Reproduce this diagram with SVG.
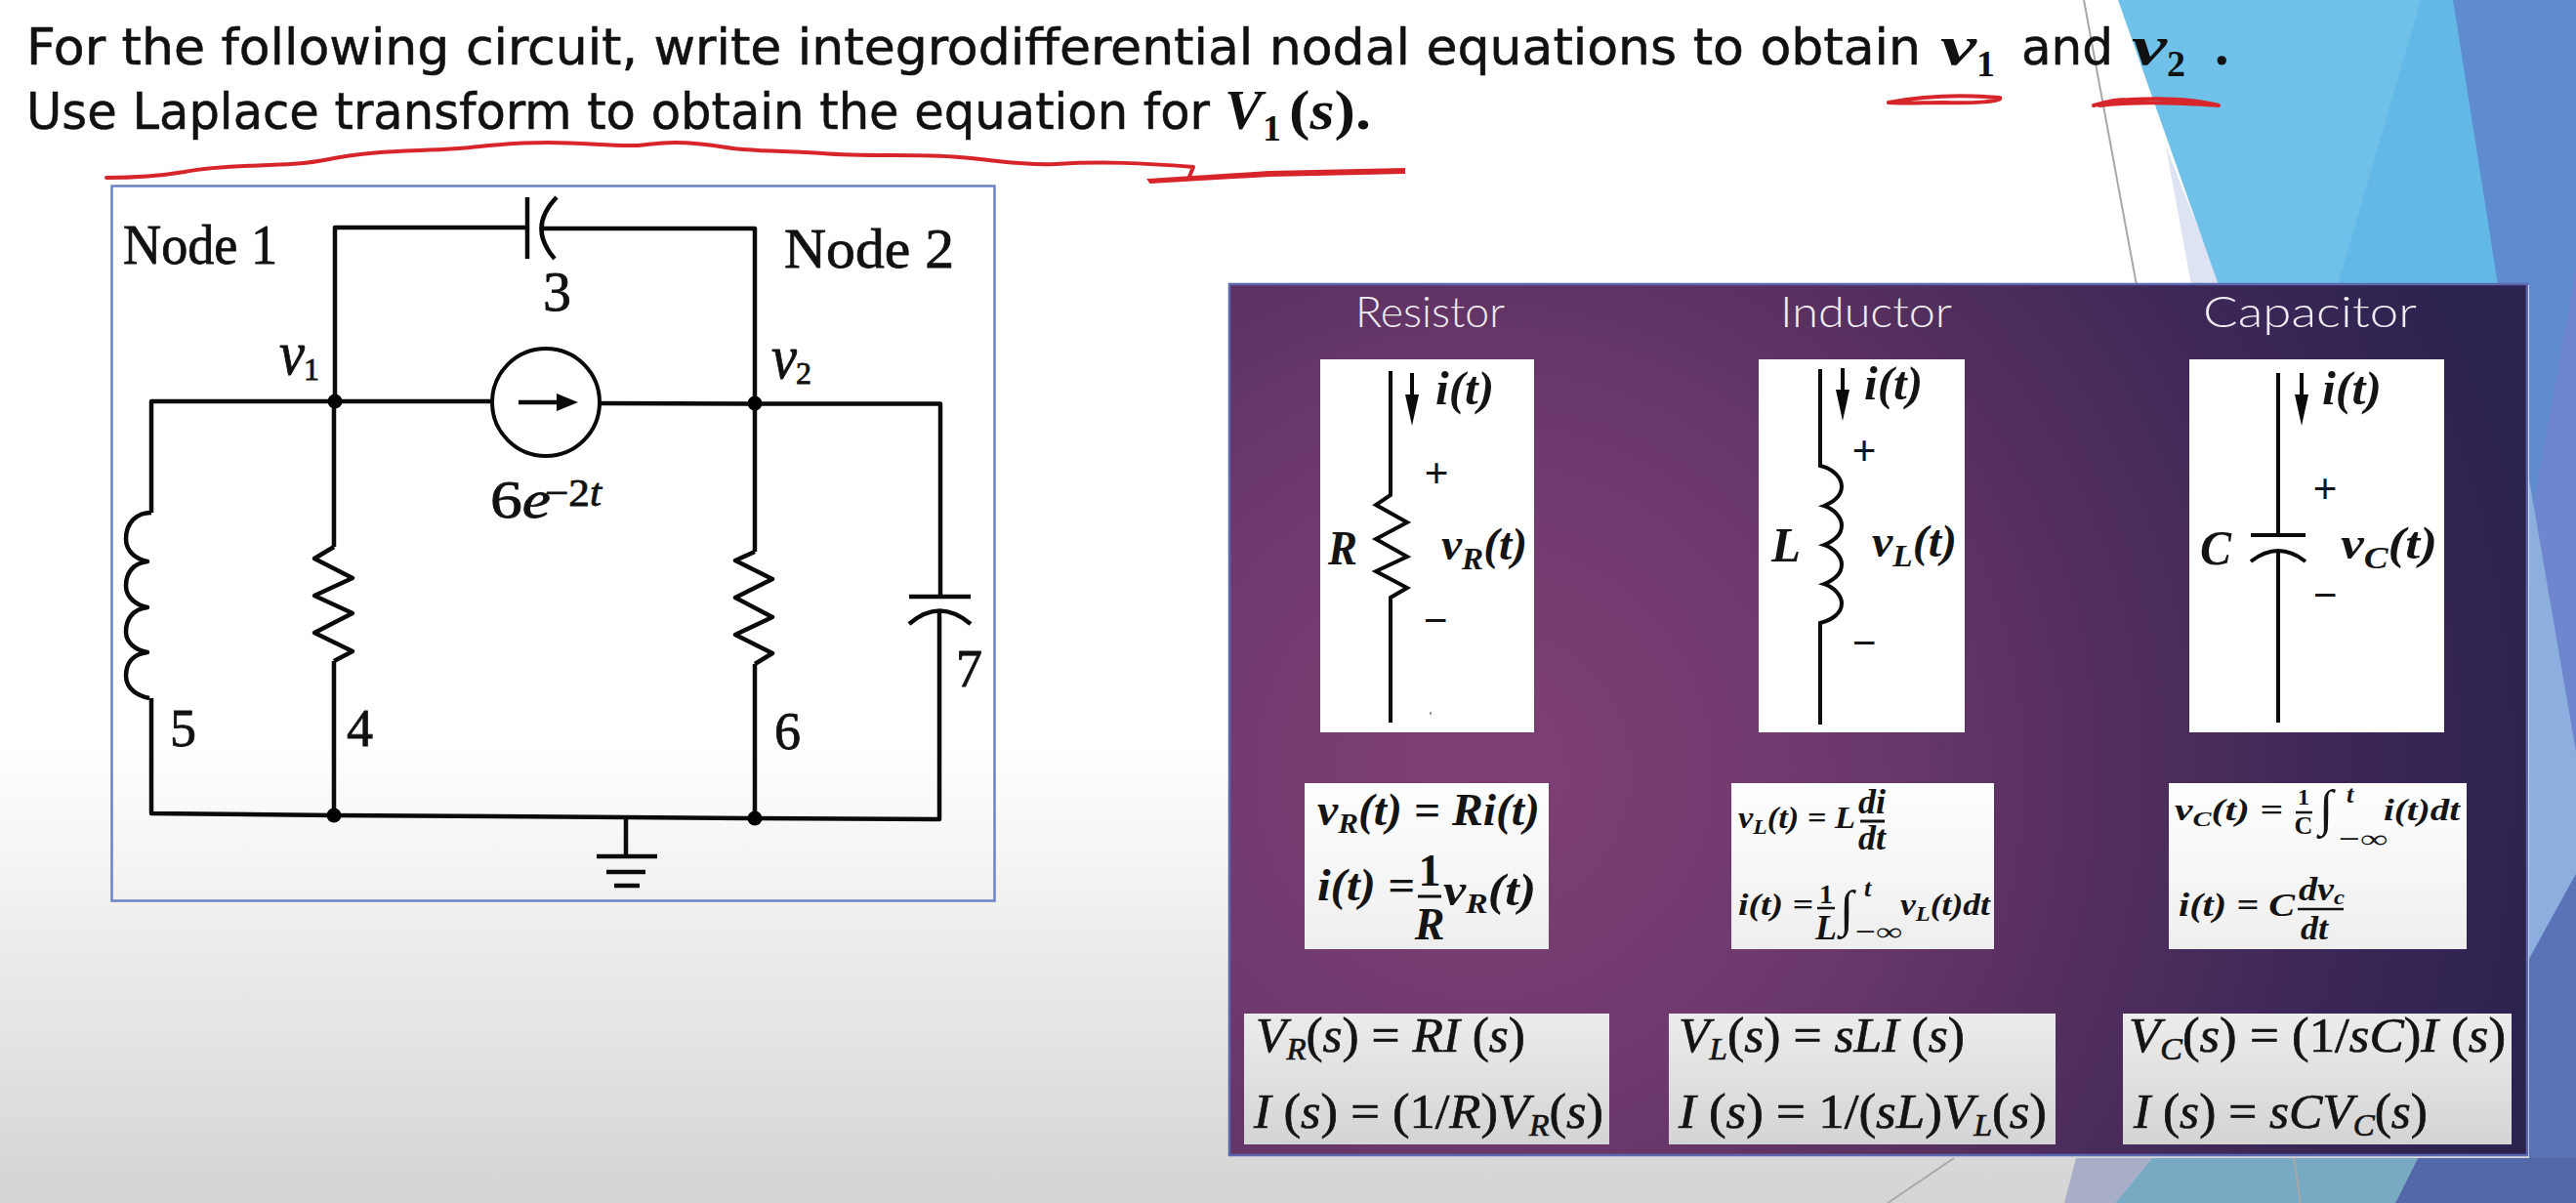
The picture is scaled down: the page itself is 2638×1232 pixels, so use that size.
<svg xmlns="http://www.w3.org/2000/svg" width="2638" height="1232" viewBox="0 0 2638 1232">
<style>
.hd{font-family:"DejaVu Sans Condensed","DejaVu Sans",sans-serif;font-stretch:condensed;font-size:52px;fill:#111;stroke:#111;stroke-width:.5}
.mb{font-family:"Liberation Serif",serif;font-style:italic;font-weight:700;font-size:58px;fill:#111}
.s{font-family:"Liberation Serif",serif;font-size:56px;fill:#111;stroke:#111;stroke-width:.8}
.si{font-family:"Liberation Serif",serif;font-style:italic;font-size:56px;fill:#111;stroke:#111;stroke-width:.8}
.t{font-family:"Lato","Liberation Sans",sans-serif;font-weight:300;font-size:44px;fill:#f0ecf2}
.e{font-family:"Liberation Serif",serif;font-style:italic;font-weight:700;fill:#141414}
.q{font-family:"Liberation Serif",serif;font-style:italic;font-size:50px;fill:#141414;stroke:#141414;stroke-width:.7}
.l{font-family:"Liberation Serif",serif;font-weight:400;fill:#141414}
.u{font-style:normal}
.w{fill:none;stroke:#0a0a0a;stroke-width:4.500;stroke-linejoin:round}
.wt{fill:none;stroke:#0a0a0a;stroke-width:4}
.r{fill:none;stroke:#d6252b;stroke-width:4;stroke-linecap:round;stroke-linejoin:round}
.box{fill:#fff}
</style>
<defs>
<linearGradient id="bg" x1="0" y1="0" x2="0" y2="1232" gradientUnits="userSpaceOnUse"><stop offset="0.62" stop-color="#fff"/><stop offset="1" stop-color="#d4d4d4"/></linearGradient>
<radialGradient id="pg" gradientUnits="userSpaceOnUse" cx="1520" cy="790" r="1090"><stop offset="0" stop-color="#7e4074"/><stop offset="0.3" stop-color="#703a6e"/><stop offset="0.55" stop-color="#57305f"/><stop offset="0.78" stop-color="#3e2858"/><stop offset="1" stop-color="#2d2350"/></radialGradient>
<linearGradient id="mid" x1="0" y1="0" x2="0" y2="1"><stop offset="0" stop-color="#fff"/><stop offset="1" stop-color="#eeeeee"/></linearGradient>
<linearGradient id="low" x1="0" y1="0" x2="0" y2="1"><stop offset="0" stop-color="#ececec"/><stop offset="1" stop-color="#d4d4d4"/></linearGradient>
</defs>

<g id="background">
<rect width="2638" height="1232" fill="url(#bg)"/>
<polygon points="2218,150 2244,292 2274,292" fill="#dde3f3"/>
<polygon points="2169,0 2638,0 2638,292 2272,292" fill="#70c1ea"/>
<polygon points="2479,0 2512,0 2558,292 2394,292" fill="#62b8e6"/>
<polygon points="2512,0 2638,0 2638,1000 2590,1000 2590,292 2558,292" fill="#5f8bcf"/>
<polygon points="2638,275 2638,790 2590,491 2590,540" fill="#6d86ce"/>
<polygon points="2590,491 2638,770 2638,895 2590,982" fill="#8cafdf"/>
<polygon points="2590,982 2638,895 2638,1232 2590,1232" fill="#5a72b8"/>
<polygon points="2126,1186 2204,1186 2166,1232 2114,1232" fill="#a9aec8"/>
<polygon points="2204,1186 2476,1186 2453,1232 2166,1232" fill="#79aac4"/>
<polygon points="2476,1186 2638,1186 2638,1232 2453,1232" fill="#5368a8"/>
<path d="M2134 0L2188 292M2001 1186L1933 1232M2349 1186L2356 1232" fill="none" stroke="#a8a8a8" stroke-width="2"/>
</g>

<g id="question">
<text class="hd" x="27" y="66" textLength="1940" lengthAdjust="spacingAndGlyphs">For the following circuit, write integrodifferential nodal equations to obtain</text>
<text class="mb" x="1987" y="66" textLength="37" lengthAdjust="spacingAndGlyphs">v</text><text class="mb u" x="2024" y="78" style="font-size:38px">1</text>
<text class="hd" x="2070" y="66" textLength="94" lengthAdjust="spacingAndGlyphs">and</text>
<text class="mb" x="2183" y="66" textLength="36" lengthAdjust="spacingAndGlyphs">v</text><text class="mb u" x="2219" y="78" style="font-size:38px">2</text>
<text class="mb u" x="2268" y="66">.</text>
<text class="hd" x="27" y="132" textLength="1212" lengthAdjust="spacingAndGlyphs">Use Laplace transform to obtain the equation for</text>
<text class="mb" x="1254" y="132">V</text><text class="mb u" x="1293" y="144" style="font-size:38px">1</text>
<text class="mb" x="1320" y="132" textLength="84" lengthAdjust="spacingAndGlyphs"><tspan class="u">(</tspan>s<tspan class="u">).</tspan></text>
</g>

<g id="annotations">
<path class="r" d="M109 182C140 182 165 180 189 176C240 166 290 173 337 163C390 152 440 156 491 150C520 147 540 146 561 146C600 146 625 150 653 149C670 147 680 146 691 146C710 146 725 148 744 151C775 156 810 154 842 157C890 161 940 157 982 161C1020 164 1050 170 1081 168C1130 165 1170 167 1222 171L1218 181"/>
<path d="M1176 184L1300 176L1438 173L1438 177L1300 180L1178 187Z" fill="#d6252b" stroke="#d6252b" stroke-width="2"/>
<path class="r" d="M1934 105C1960 100 2000 96 2048 100C2052 104 2020 106 1990 105C1970 105 1950 106 1934 105"/>
<path class="r" d="M2144 108C2160 104 2165 102 2180 102C2215 100 2250 102 2272 108C2245 106 2190 103 2150 108"/>
</g>

<g id="circuit">
<rect x="114.500" y="190.500" width="904" height="732" fill="none" stroke="#6a83c4" stroke-width="2.500"/>
<g id="connectors">
<path class="w" d="M343 411V233H540M554 234H773V413"/>
<path class="w" d="M155 525V411H504M614 413L773 413.500H963V611"/>
<path class="w" d="M155 715V833L342 835L641 837L773 838L962 839V627"/>
<path class="w" d="M342 411V560M342 677V835M773 413V565M773 680V838"/>
<path class="w" d="M641 837V877"/>
</g>
<g id="inductor-5"><path class="w" d="M155 525C140 525 129 535 129 552C129 565 140 573 151 575C135 577 129 588 129 600C129 612 140 620 151 622C135 624 129 635 129 647C129 659 140 666 151 668C135 670 129 680 129 692C129 706 142 713 153 715"/><text class="s" x="174" y="764" style="font-size:54px">5</text></g>
<g id="resistor-4"><path class="w" d="M342 560L322 572L361 592L322 610L361 628L322 648L361 667L342 677"/><text class="s" x="355" y="764" style="font-size:54px">4</text></g>
<g id="resistor-6"><path class="w" d="M773 565L753 574L791 593L753 612L791 632L753 650L791 669L773 680"/><text class="s" x="793" y="767" style="font-size:54px">6</text></g>
<g id="capacitor-7"><path class="w" d="M931 611H994M931 639Q962 612 994 639"/><text class="s" x="979" y="703" style="font-size:54px">7</text></g>
<g id="capacitor-3"><path class="w" d="M540 202V265M570 202Q540 233 568 265"/><text class="s" x="556" y="318" style="font-size:58px">3</text></g>
<g id="source"><circle cx="559" cy="412" r="55" fill="none" stroke="#0a0a0a" stroke-width="4"/><path class="w" d="M531 412H575"/><polygon points="592,412 570,403 570,421" fill="#0a0a0a"/><text class="si" x="502" y="530" style="font-size:54px" textLength="62" lengthAdjust="spacingAndGlyphs"><tspan class="u">6</tspan>e</text><text class="si" x="558" y="518" style="font-size:40px" textLength="58" lengthAdjust="spacingAndGlyphs"><tspan class="u">−2</tspan>t</text></g>
<g id="ground"><path class="w" d="M611 877H673"/><path class="w" stroke-width="5" d="M621 893H661M629 907H655"/></g>
<g id="junctions"><circle cx="343" cy="411" r="7.500"/><circle cx="773" cy="413" r="7.500"/><circle cx="342" cy="835" r="7.500"/><circle cx="773" cy="838" r="7.500"/></g>
<g id="node-1"><text class="s" x="126" y="270" textLength="158" lengthAdjust="spacingAndGlyphs" style="font-size:56px">Node 1</text><text class="si" x="286" y="383" style="font-size:64px" textLength="26" lengthAdjust="spacingAndGlyphs">v</text><text class="s" x="311" y="389" style="font-size:32px">1</text></g>
<g id="node-2"><text class="s" x="803" y="274" textLength="174" lengthAdjust="spacingAndGlyphs" style="font-size:56px">Node 2</text><text class="si" x="790" y="387" style="font-size:64px" textLength="26" lengthAdjust="spacingAndGlyphs">v</text><text class="s" x="815" y="393" style="font-size:32px">2</text></g>
</g>

<g id="panel">
<rect x="1259" y="291" width="1329" height="892" fill="url(#pg)" stroke="#5b68b0" stroke-width="2.500"/>
<text class="t" x="1388" y="335" textLength="153" lengthAdjust="spacingAndGlyphs">Resistor</text>
<text class="t" x="1823" y="335" textLength="176" lengthAdjust="spacingAndGlyphs">Inductor</text>
<text class="t" x="2256" y="335" textLength="219" lengthAdjust="spacingAndGlyphs">Capacitor</text>

<g id="resistor-symbol">
<rect class="box" x="1352" y="368" width="219" height="382"/>
<path class="wt" d="M1424 380V507L1409 517L1441 535L1409 552L1441 570L1409 585L1441 602L1424 612V740"/>
<path class="wt" stroke-width="3" d="M1446 382V412"/><polygon points="1446,436 1439,404 1453,404" fill="#0a0a0a"/>
<text class="e" x="1470" y="414" style="font-size:48px" textLength="60" lengthAdjust="spacingAndGlyphs">i(t)</text>
<text class="l" x="1471" y="499" text-anchor="middle" style="font-size:44px;font-weight:700">+</text>
<text class="l" x="1470" y="650" text-anchor="middle" style="font-size:44px;font-weight:700">−</text>
<text class="e" x="1360" y="578" style="font-size:50px" textLength="30" lengthAdjust="spacingAndGlyphs">R</text>
<text class="e" x="1476" y="573" style="font-size:46px" textLength="88" lengthAdjust="spacingAndGlyphs">v<tspan dy="10" style="font-size:32px">R</tspan><tspan dy="-10">(t)</tspan></text>
<rect x="1464" y="729" width="2" height="3" fill="#999"/>
</g>
<g id="inductor-symbol">
<rect class="box" x="1801" y="368" width="211" height="382"/>
<path class="wt" d="M1864 378V477C1878 480 1886 490 1886 498C1886 508 1878 514 1868 518C1878 521 1886 530 1886 538C1886 548 1878 554 1868 558C1878 561 1886 570 1886 578C1886 588 1878 594 1868 598C1878 601 1886 610 1886 618C1886 628 1876 635 1864 638V742"/>
<path class="wt" stroke-width="3" d="M1887 377V407"/><polygon points="1887,431 1880,399 1894,399" fill="#0a0a0a"/>
<text class="e" x="1909" y="409" style="font-size:48px" textLength="60" lengthAdjust="spacingAndGlyphs">i(t)</text>
<text class="l" x="1909" y="476" text-anchor="middle" style="font-size:44px;font-weight:700">+</text>
<text class="l" x="1909" y="673" text-anchor="middle" style="font-size:44px;font-weight:700">−</text>
<text class="e" x="1814" y="575" style="font-size:50px" textLength="30" lengthAdjust="spacingAndGlyphs">L</text>
<text class="e" x="1917" y="570" style="font-size:46px" textLength="87" lengthAdjust="spacingAndGlyphs">v<tspan dy="10" style="font-size:32px">L</tspan><tspan dy="-10">(t)</tspan></text>
</g>
<g id="capacitor-symbol">
<rect class="box" x="2242" y="368" width="261" height="382"/>
<path class="wt" d="M2333 382V548M2305 548H2361M2305 575Q2333 553 2361 575M2333 565V740"/>
<path class="wt" stroke-width="3" d="M2357 382V412"/><polygon points="2357,436 2350,404 2364,404" fill="#0a0a0a"/>
<text class="e" x="2378" y="414" style="font-size:48px" textLength="61" lengthAdjust="spacingAndGlyphs">i(t)</text>
<text class="l" x="2381" y="515" text-anchor="middle" style="font-size:44px;font-weight:700">+</text>
<text class="l" x="2381" y="624" text-anchor="middle" style="font-size:44px;font-weight:700">−</text>
<text class="e" x="2253" y="578" style="font-size:50px" textLength="32" lengthAdjust="spacingAndGlyphs">C</text>
<text class="e" x="2397" y="572" style="font-size:46px" textLength="99" lengthAdjust="spacingAndGlyphs">v<tspan dy="10" style="font-size:32px">C</tspan><tspan dy="-10">(t)</tspan></text>
</g>

<g id="resistor-time">
<rect x="1336" y="802" width="250" height="170" fill="url(#mid)"/>
<text class="e" x="1349" y="845" style="font-size:46px" textLength="228" lengthAdjust="spacingAndGlyphs">v<tspan dy="8" style="font-size:30px">R</tspan><tspan dy="-8">(t) = Ri(t)</tspan></text>
<text class="e" x="1349" y="922" style="font-size:46px" textLength="100" lengthAdjust="spacingAndGlyphs">i(t) =</text>
<text class="e u" x="1464" y="907" text-anchor="middle" style="font-size:46px">1</text>
<path d="M1452 918H1476" stroke="#111" stroke-width="3"/>
<text class="e" x="1464" y="962" text-anchor="middle" style="font-size:46px">R</text>
<text class="e" x="1478" y="927" style="font-size:46px" textLength="95" lengthAdjust="spacingAndGlyphs">v<tspan dy="8" style="font-size:30px">R</tspan><tspan dy="-8">(t)</tspan></text>
</g>
<g id="inductor-time">
<rect x="1773" y="802" width="269" height="170" fill="url(#mid)"/>
<text class="e" x="1780" y="848" style="font-size:32px" textLength="120" lengthAdjust="spacingAndGlyphs">v<tspan dy="6" style="font-size:22px">L</tspan><tspan dy="-6">(t) = L</tspan></text>
<text class="e" x="1917" y="833" text-anchor="middle" style="font-size:36px">di</text>
<path d="M1905 841H1930" stroke="#111" stroke-width="3"/>
<text class="e" x="1917" y="870" text-anchor="middle" style="font-size:36px">dt</text>
<text class="e" x="1780" y="937" style="font-size:32px" textLength="77" lengthAdjust="spacingAndGlyphs">i(t) =</text>
<text class="e u" x="1870" y="925" text-anchor="middle" style="font-size:28px">1</text>
<path d="M1861 930H1879" stroke="#111" stroke-width="2.500"/>
<text class="e" x="1870" y="962" text-anchor="middle" style="font-size:36px">L</text>
<text class="l" x="1884" y="948" style="font-size:52px;font-style:italic">∫</text>
<text class="e" x="1909" y="918" style="font-size:26px">t</text>
<text class="e u" x="1900" y="963" style="font-size:26px" textLength="48" lengthAdjust="spacingAndGlyphs">−∞</text>
<text class="e" x="1946" y="937" style="font-size:32px" textLength="92" lengthAdjust="spacingAndGlyphs">v<tspan dy="6" style="font-size:22px">L</tspan><tspan dy="-6">(t)dt</tspan></text>
</g>
<g id="capacitor-time">
<rect x="2221" y="802" width="305" height="170" fill="url(#mid)"/>
<text class="e" x="2227" y="840" style="font-size:32px" textLength="111" lengthAdjust="spacingAndGlyphs">v<tspan dy="6" style="font-size:22px">C</tspan><tspan dy="-6">(t) =</tspan></text>
<text class="e u" x="2359" y="824" text-anchor="middle" style="font-size:24px">1</text>
<path d="M2351 832H2368" stroke="#111" stroke-width="2.500"/>
<text class="l" x="2359" y="854" text-anchor="middle" style="font-size:26px;font-weight:700">C</text>
<text class="l" x="2375" y="845" style="font-size:52px;font-style:italic">∫</text>
<text class="e" x="2403" y="822" style="font-size:26px">t</text>
<text class="e u" x="2395" y="868" style="font-size:26px" textLength="50" lengthAdjust="spacingAndGlyphs">−∞</text>
<text class="e" x="2441" y="840" style="font-size:32px" textLength="78" lengthAdjust="spacingAndGlyphs">i(t)dt</text>
<text class="e" x="2231" y="938" style="font-size:34px" textLength="119" lengthAdjust="spacingAndGlyphs">i(t) = C</text>
<text class="e" x="2354" y="922" style="font-size:34px" textLength="47" lengthAdjust="spacingAndGlyphs">dv<tspan dy="4" style="font-size:22px">c</tspan></text>
<path d="M2353 931H2400" stroke="#111" stroke-width="2.500"/>
<text class="e" x="2356" y="962" style="font-size:34px" textLength="28" lengthAdjust="spacingAndGlyphs">dt</text>
</g>

<g id="resistor-laplace">
<rect x="1274" y="1038" width="374" height="134" fill="url(#low)"/>
<text class="q" x="1286" y="1077" textLength="276" lengthAdjust="spacingAndGlyphs">V<tspan dy="8" style="font-size:32px">R</tspan><tspan dy="-8" class="u">(</tspan>s<tspan class="u">) = </tspan>RI<tspan class="u"> (</tspan>s<tspan class="u">)</tspan></text>
<text class="q" x="1284" y="1155" textLength="358" lengthAdjust="spacingAndGlyphs">I<tspan class="u"> (</tspan>s<tspan class="u">) = (1/</tspan>R<tspan class="u">)</tspan>V<tspan dy="8" style="font-size:32px">R</tspan><tspan dy="-8" class="u">(</tspan>s<tspan class="u">)</tspan></text>
</g>
<g id="inductor-laplace">
<rect x="1709" y="1038" width="396" height="134" fill="url(#low)"/>
<text class="q" x="1719" y="1077" textLength="293" lengthAdjust="spacingAndGlyphs">V<tspan dy="8" style="font-size:32px">L</tspan><tspan dy="-8" class="u">(</tspan>s<tspan class="u">) = </tspan>sLI<tspan class="u"> (</tspan>s<tspan class="u">)</tspan></text>
<text class="q" x="1719" y="1155" textLength="377" lengthAdjust="spacingAndGlyphs">I<tspan class="u"> (</tspan>s<tspan class="u">) = 1/(</tspan>sL<tspan class="u">)</tspan>V<tspan dy="8" style="font-size:32px">L</tspan><tspan dy="-8" class="u">(</tspan>s<tspan class="u">)</tspan></text>
</g>
<g id="capacitor-laplace">
<rect x="2174" y="1038" width="398" height="134" fill="url(#low)"/>
<text class="q" x="2180" y="1077" textLength="386" lengthAdjust="spacingAndGlyphs">V<tspan dy="8" style="font-size:32px">C</tspan><tspan dy="-8" class="u">(</tspan>s<tspan class="u">) = (1/</tspan>sC<tspan class="u">)</tspan>I<tspan class="u"> (</tspan>s<tspan class="u">)</tspan></text>
<text class="q" x="2185" y="1155" textLength="301" lengthAdjust="spacingAndGlyphs">I<tspan class="u"> (</tspan>s<tspan class="u">) = </tspan>sCV<tspan dy="8" style="font-size:32px">C</tspan><tspan dy="-8" class="u">(</tspan>s<tspan class="u">)</tspan></text>
</g>
</g>
</svg>
